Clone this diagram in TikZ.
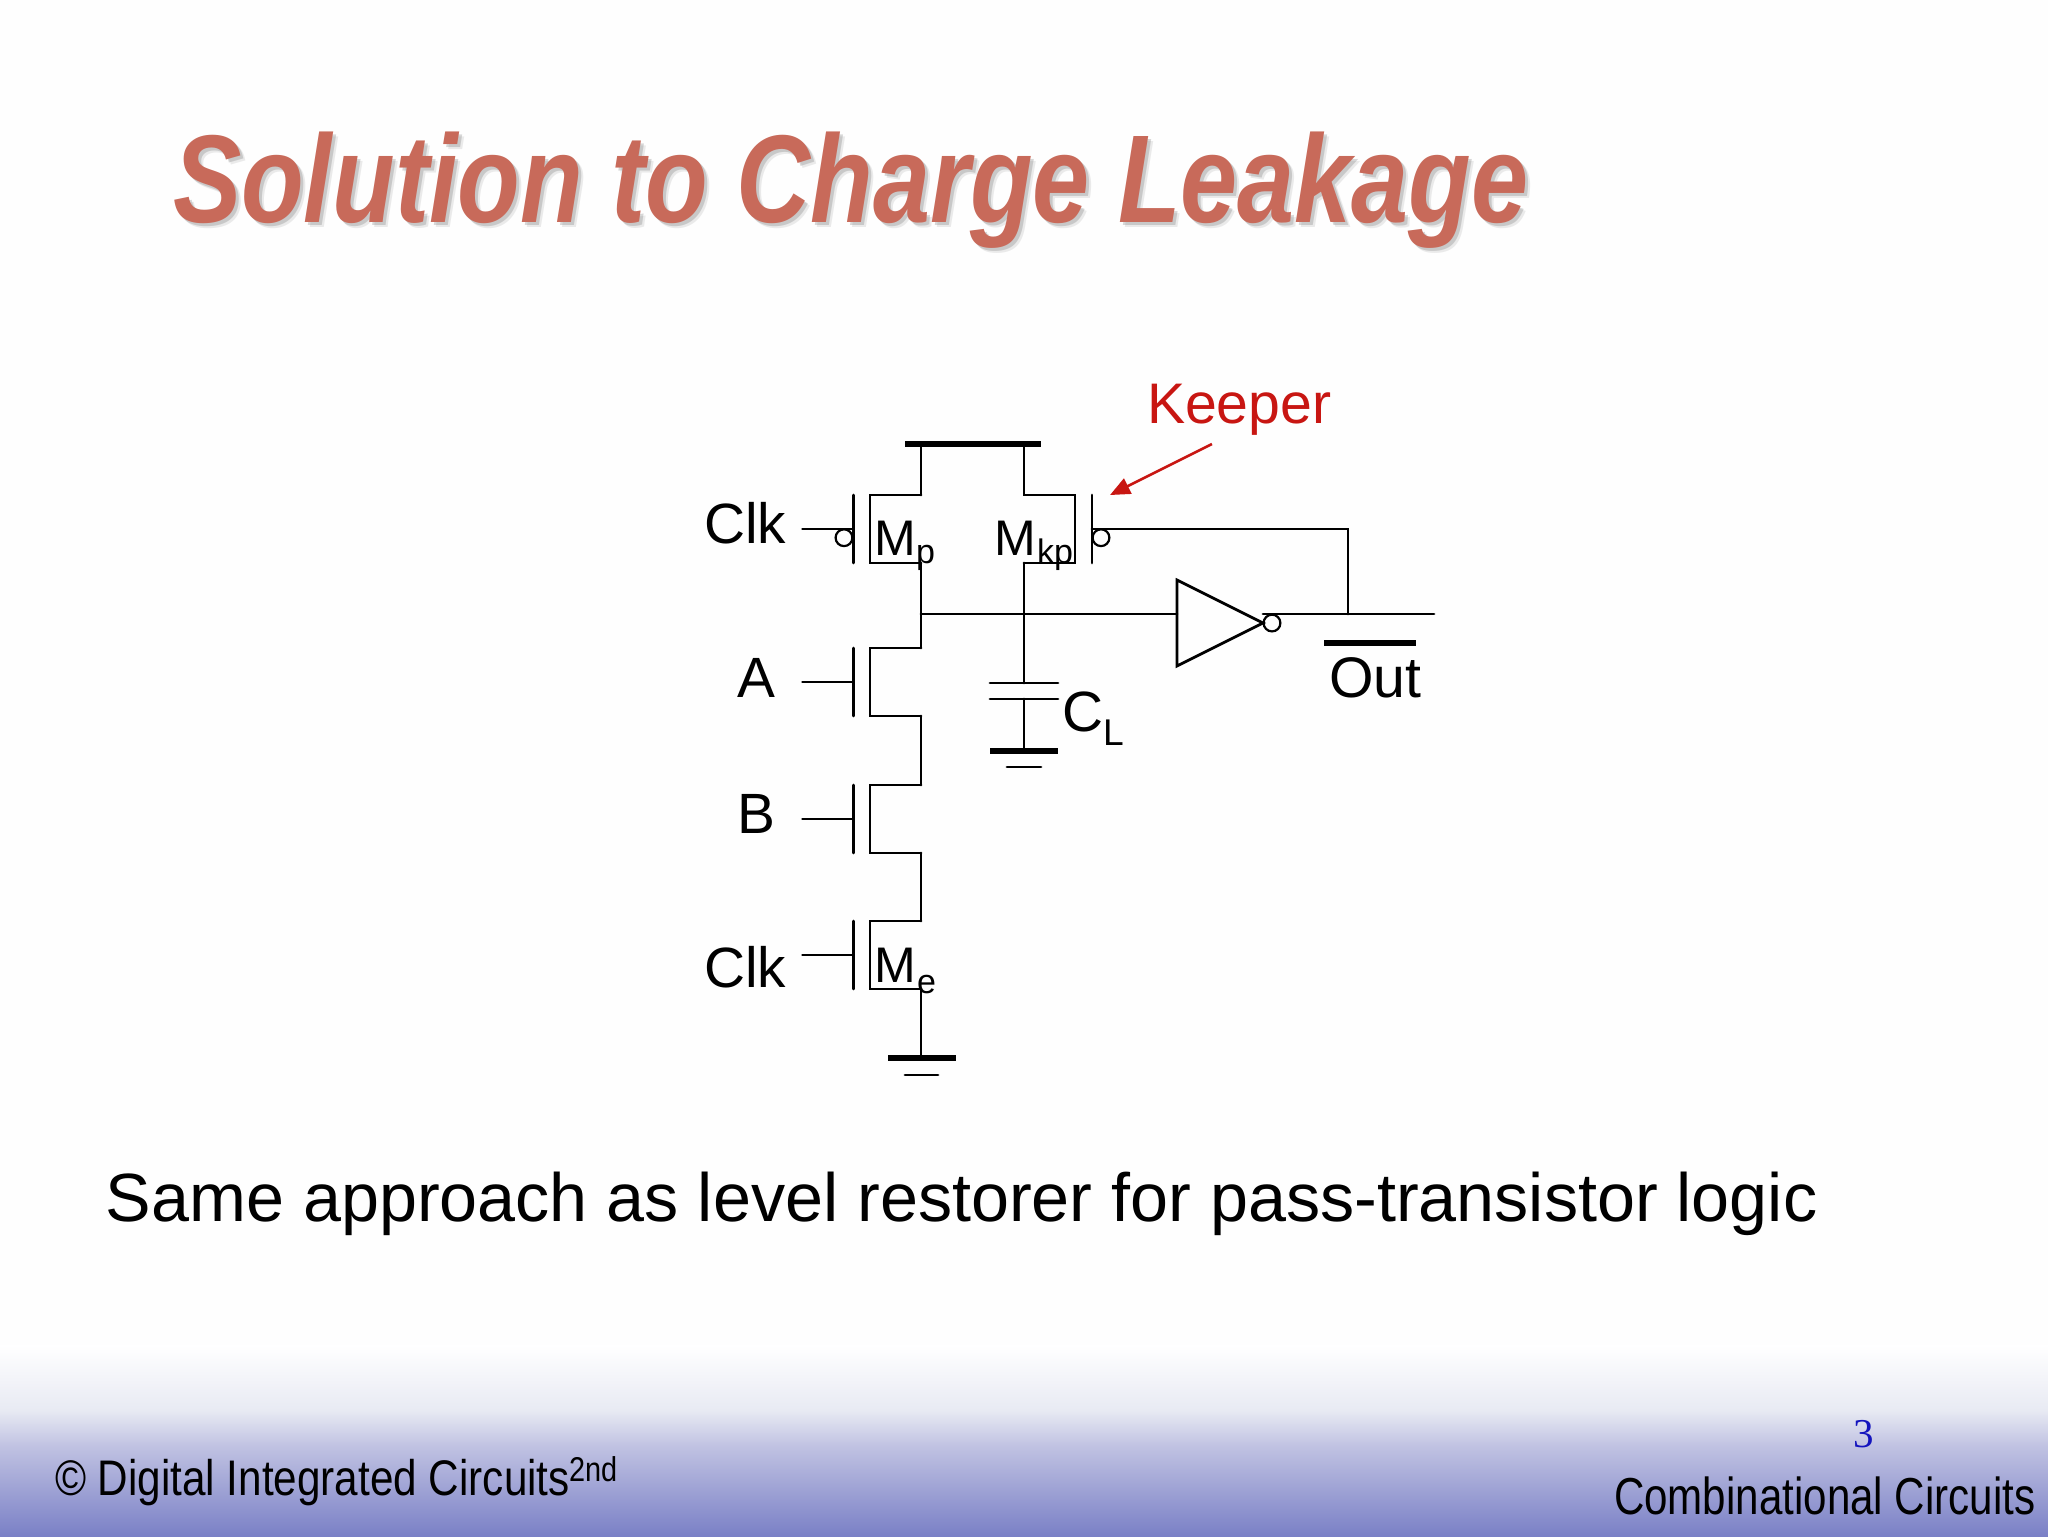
\documentclass[tikz,border=0pt]{standalone}
\usepackage{graphicx}
\usepackage{fontspec}
\setmainfont{Liberation Sans}
\newfontfamily\numfont{Liberation Serif}
\usetikzlibrary{arrows.meta}
\definecolor{titlered}{RGB}{200,106,90}
\definecolor{keepred}{RGB}{200,22,18}
\definecolor{footblue}{RGB}{122,128,198}
\definecolor{footmid}{RGB}{192,194,226}
\definecolor{footpale}{RGB}{232,234,243}
\definecolor{pageblue}{RGB}{20,20,190}
\newcommand{\fsz}[1]{\fontsize{#1}{#1}\selectfont}
\tikzset{
  wire/.style={draw=black,line width=0.7pt,line cap=round,line join=miter},
  rail/.style={draw=black,line width=1.7pt},
  lbl/.style={anchor=base west,inner sep=0pt,outer sep=0pt,text=black},
  bubble/.style={circle,draw=black,line width=0.55pt,minimum size=4.2pt,inner sep=0pt},
}
% name, top y: transistor with its channel left of the x=921 rail, gate bar and stub
\newcommand{\leftfet}[2]{%
  \coordinate (#1top) at (921,#2);
  \coordinate (#1bot) at (921,{#2+68});
  \coordinate (#1cht) at (870,#2);
  \coordinate (#1chb) at (870,{#2+68});
  \coordinate (#1gt) at (853.5,#2);
  \coordinate (#1gb) at (853.5,{#2+68});
  \coordinate (#1in) at (802.5,{#2+34});
  \coordinate (#1gm) at (853.5,{#2+34});
  \draw[wire] (#1top) -- (#1cht) -- (#1chb) -- (#1bot);
  \draw[wire] (#1gt) -- (#1gb);
}
\begin{document}
\begin{tikzpicture}[x=0.25pt,y=-0.25pt]
\useasboundingbox (0,0) rectangle (2048,1536);
% background and footer band
\fill[white!99.5!black] (0,0) rectangle (2048,1536);
\shade[top color=white,bottom color=footpale,draw=none] (0,1345) rectangle (2048,1410);
\shade[top color=footpale,bottom color=footmid,draw=none] (0,1410) rectangle (2048,1446);
\shade[top color=footmid,bottom color=footblue,draw=none] (0,1446) rectangle (2048,1536);
% title with soft shadow
\foreach \o/\a in {5/0.14,3/0.28}{
  \node[lbl,text=black!55,opacity=\a] (titleshadow\o) at ({173+\o},{222+\o})
    {\fsz{31.25}\bfseries\itshape\scalebox{0.82}[1]{Solution to Charge Leakage}};
}
\node[lbl,text=titlered] (title) at (173,222)
  {\fsz{31.25}\bfseries\itshape\scalebox{0.82}[1]{Solution to Charge Leakage}};
% supply rail
\coordinate (vddl) at (905,444); \coordinate (vddr) at (1041,444);
\draw[rail] (vddl) -- (vddr);
% pull-up Mp
\leftfet{p}{495}
\coordinate (ptap) at (921,444);
\draw[wire] (ptap) -- (ptop);
\node[bubble] (pbub) at (844,537.7) {};
\draw[wire] (pin) -- (pgm);
% keeper Mkp
\coordinate (ktap) at (1024,444);
\coordinate (ktop) at (1024,495);
\coordinate (kcht) at (1075,495);
\coordinate (kchb) at (1075,563);
\coordinate (kbot) at (1024,563);
\coordinate (kgt) at (1092,495);
\coordinate (kgb) at (1092,563);
\coordinate (kgm) at (1092,529);
\coordinate (fbc) at (1348,529);
\draw[wire] (ktap) -- (ktop) -- (kcht) -- (kchb) -- (kbot);
\draw[wire] (kgt) -- (kgb);
\node[bubble] (kbub) at (1101,537.7) {};
% dynamic node
\coordinate (nodeL) at (921,614);
\coordinate (nodeK) at (1024,614);
\coordinate (invin) at (1177,614);
\draw[wire] (pbot) -- (nodeL);
\draw[wire] (kbot) -- (nodeK);
\draw[wire] (nodeL) -- (invin);
% inverter
\coordinate (ia) at (1177,580); \coordinate (ib) at (1177,666); \coordinate (ic) at (1263,623);
\draw[wire,line join=miter] (ia) -- (ic) -- (ib) -- cycle;
\node[bubble] (ibub) at (1272,623) {};
\coordinate (ooutL) at (1263,614);
\coordinate (ooutR) at (1434,614);
\coordinate (fbb) at (1348,614);
\draw[wire] (ooutL) -- (ooutR);
\draw[wire] (kgm) -- (fbc) -- (fbb);
\coordinate (ovL) at (1324,643); \coordinate (ovR) at (1416,643);
\draw[draw=black,line width=1.55pt] (ovL) -- (ovR);
% capacitor
\coordinate (capT) at (1024,683);
\coordinate (capB) at (1024,699);
\coordinate (capG) at (1024,751);
\coordinate (p1l) at (990,683); \coordinate (p1r) at (1058,683);
\coordinate (p2l) at (990,699); \coordinate (p2r) at (1058,699);
\coordinate (g1l) at (990,751); \coordinate (g1r) at (1058,751);
\coordinate (g2l) at (1007,767); \coordinate (g2r) at (1041,767);
\draw[wire] (nodeK) -- (capT);
\draw[wire] (capB) -- (capG);
\draw[wire] (p1l) -- (p1r);
\draw[wire] (p2l) -- (p2r);
\draw[rail] (g1l) -- (g1r);
\draw[wire] (g2l) -- (g2r);
% pull-down stack
\draw[wire] (nodeL) -- (921,648);
\leftfet{a}{648}
\draw[wire] (ain) -- (agm);
\leftfet{b}{785}
\draw[wire] (bin) -- (bgm);
\draw[wire] (abot) -- (btop);
\leftfet{e}{921}
\draw[wire] (ein) -- (egm);
\draw[wire] (bbot) -- (etop);
\coordinate (sg) at (921,1058);
\draw[wire] (ebot) -- (sg);
\coordinate (s1l) at (888,1058); \coordinate (s1r) at (956,1058);
\coordinate (s2l) at (905,1075); \coordinate (s2r) at (938,1075);
\draw[rail] (s1l) -- (s1r);
\draw[wire] (s2l) -- (s2r);
% keeper label and arrow
\node[lbl,text=keepred] (keeper) at (1147,423) {\fsz{14.3}Keeper};
\coordinate (kstart) at (1212,444); \coordinate (ktip) at (1110,495);
\draw[draw=keepred,line width=0.65pt,-{Triangle[length=5pt,width=4.2pt]}] (kstart) -- (ktip);
% circuit labels
\node[lbl] (clk1) at (704,543) {\fsz{14.2}Clk};
\node[lbl] (la) at (737,697) {\fsz{14.2}A};
\node[lbl] (lb) at (737,833) {\fsz{14.2}B};
\node[lbl] (clk2) at (704,987) {\fsz{14.2}Clk};
\node[lbl] (lmp) at (874,555) {\fsz{12.5}M};
\node[lbl] (lmps) at (916,563) {\fsz{8.5}p};
\node[lbl] (lmk) at (994,555) {\fsz{12.5}M};
\node[lbl] (lmks) at (1037,563) {\fsz{8.5}kp};
\node[lbl] (lme) at (874,982) {\fsz{12.5}M};
\node[lbl] (lmes) at (917,993) {\fsz{8.5}e};
\node[lbl] (lc) at (1062,731) {\fsz{14.2}C};
\node[lbl] (lcs) at (1103,745) {\fsz{9.3}L};
\node[lbl] (lout) at (1329,697) {\fsz{14.3}Out};
% body sentence
\node[lbl] (body) at (106,1221) {\fsz{17.07}Same approach as level restorer for pass-transistor logic};
% footer
\node[lbl] (fl) at (55,1495) {\fsz{12.5}\scalebox{0.845}[1]{© Digital Integrated Circuits}};
\node[lbl] (fs) at (569,1481) {\fsz{8.6}\scalebox{0.84}[1]{2nd}};
\node[lbl,text=pageblue] (pg) at (1853,1447) {\fsz{10.25}\numfont 3};
\node[lbl] (fr) at (1614,1514) {\fsz{13}\scalebox{0.81}[1]{Combinational Circuits}};
\end{tikzpicture}
\end{document}
